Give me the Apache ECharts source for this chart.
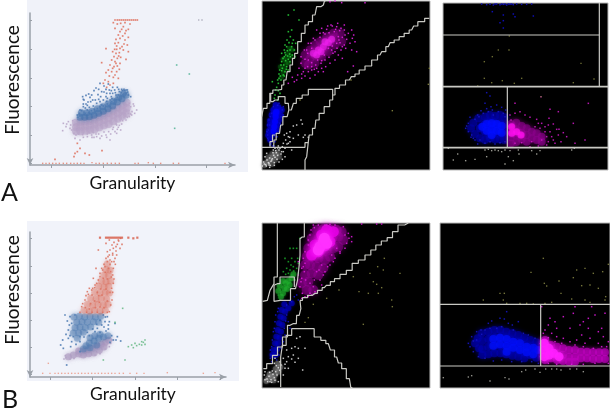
<!DOCTYPE html>
<html><head><meta charset="utf-8">
<script src="https://cdn.jsdelivr.net/npm/echarts@6/dist/echarts.min.js"></script>
<style>html,body{margin:0;padding:0;background:#fff}#c{width:610px;height:408px}</style></head>
<body><div id="c"></div>
<script>
const alLavCore=[228,368,228,382,228,394,242,366,242,380,242,394,256,364,256,378,256,392,270,362,270,376,270,390,284,358,284,372,284,388,298,352,298,366,298,382,312,346,312,360,312,376,326,340,326,354,326,372,340,332,340,346,340,364,354,324,354,340,354,356,368,316,368,332,368,348,380,308,380,324,380,340];
const alLav=[190,370,198,380,205,365,212,375,215,390,222,400,228,405,236,402,248,404,262,402,275,405,290,410,305,408,320,412,332,402,345,395,355,382,365,372,378,360,388,350,396,335,392,320,402,318,385,340,375,348,268,398,280,398,296,402,312,396,326,395,338,388,350,375,360,360,372,352,210,385,188,392,200,372,218,362,225,415,240,420,300,415,330,420,350,400,362,390,282,412,270,392,395,345,410,330,352,388,318,405,250,412,262,410,276,412,288,402,340,382,348,372,358,376,368,362,382,352,392,342,404,340,400,312,388,310];
const alBlueCore=[240,352,254,352,268,350,282,346,296,340,310,334,324,326,338,318,352,306,366,296,378,286,244,338,260,338,276,334,292,326,308,320,324,312,340,304,356,292,370,280];
const alBlue=[232,345,238,340,245,332,250,320,252,300,258,312,262,330,268,322,272,305,275,285,280,318,285,335,290,310,296,298,300,320,305,275,310,300,315,325,318,290,322,312,325,252,330,300,334,290,338,280,342,300,348,285,352,292,358,275,360,288,365,268,368,285,374,272,378,280,383,276,246,345,256,340,266,338,274,332,283,328,292,326,302,326,310,318,320,304,326,318,335,305,345,298,355,285,240,348,250,312,262,316,296,268,312,258,338,262,352,262,385,285,392,290,300,250,282,272,258,286,240,330,272,340,344,270,330,280,290,332,305,315,322,295,342,310,368,272,278,300,248,290,234,352,256,324,264,306,270,292,286,300,294,284,302,290,312,276,320,280,328,270,336,296,346,278,356,268,364,278,372,268,382,270,250,298,266,282,288,264,300,305,318,268,334,272,348,300,378,270];
const alRed=[345,60,352,60,358,60,364,60,370,60,376,60,382,60,388,60,394,60,400,60,406,60,412,60,340,68,352,72,362,70,375,68,390,72,345,85,370,80,385,88,360,95,375,100,348,118,360,115,375,120,385,112,355,128,345,130,372,132,382,135,350,148,360,145,338,155,348,160,358,158,370,150,318,146,385,155,342,170,352,175,362,172,335,180,345,185,378,178,330,195,342,200,352,198,360,190,305,188,325,210,335,215,350,215,318,218,328,228,340,232,315,240,325,245,355,235,340,250,330,255,310,250,320,262,232,430,240,445,222,470,255,460,268,465,232,455,225,460,306,452,165,478,365,88,355,105,368,108,378,92,350,138,366,140,344,148,356,168,348,190,338,205,345,225,358,208];
const alRedBase=[128,490,138,490,148,490,158,490,168,490,178,490,190,490,200,490,212,490,222,490,232,490,242,490,252,490,276,488,288,490,298,490,310,490,322,490,334,490,346,490,358,490,405,490,415,490,445,488,460,490,482,490,520,490,536,490,675,490];
const alGreen=[524,385,530,195,568,222];
const alGray=[596,60,606,60];
const amGreenCore=[88,205,92,190,96,175,100,160,104,145,84,218,80,232,108,170,112,150,76,200,84,178,100,190];
const amGreen=[100,45,117,30,132,60,100,95,110,90,106,110,115,120,96,120,90,135,102,128,122,130,88,150,80,160,92,165,118,150,112,165,105,185,80,185,95,200,74,210,100,210,90,215,72,235,78,240,70,250,52,245,65,262,60,285,70,290,75,280,68,300,110,140,84,175,120,170,95,140,105,150,97,152,88,170,106,170,78,195,92,182,100,178,72,222,85,225,80,212,62,270,70,272,58,295,86,195,98,168,90,158,112,130,104,162,76,228,82,205,94,208,68,240,88,228];
const amMagMass=[150,190,165,175,180,165,195,150,210,140,225,125,240,112,255,100,165,150,180,135,195,125,215,110,235,100,150,165,160,195,180,190,200,170,220,155,240,135,260,125];
const amMagCore=[175,160,190,150,205,140,220,128,185,165,210,125,198,155,230,118];
const amMag=[268,90,280,100,292,115,300,125,285,130,268,135,258,150,250,165,240,180,225,190,212,200,200,205,185,205,170,210,160,215,150,228,140,235,125,240,118,245,100,250,290,150,305,155,262,175,295,198,278,215,248,70,232,78,215,88,195,100,175,115,160,130,148,150,138,170,138,190,268,75,290,90,296,105,252,120,262,112,275,118,180,225,165,235,132,205,205,215,228,75,245,80,258,85,150,205,158,200,140,222,185,90,205,98,238,95,246,145,234,160,222,172,210,180,198,190,182,195,170,200,245,130,255,128,262,140,272,145,240,155,230,150,225,5,240,3,260,8,330,8,150,178,158,160,170,145,180,120,195,112,210,102,222,98,242,88,254,92,160,180,170,188,188,180,208,165,220,145,232,138,250,110,270,105,155,150,168,130,200,85,218,78,200,182,178,208,128,225,112,232,145,215,190,215];
const amBlueMass=[62,315,70,322,55,330,68,335,80,330,50,345,62,348,76,346,45,362,58,362,72,360,44,376,56,376,68,374,42,392,54,390,64,388,40,406,52,404,46,420];
const amBlueCore=[64,335,62,350,60,365,58,380,56,394,62,340];
const amBlue=[42,360,44,375,40,390,38,405,40,420,44,435,75,370,78,350,82,330,85,320,70,395,66,410,60,425,58,438,55,320,50,340,46,350,85,345,72,310,68,316,38,375,36,395,38,415,48,432,52,438];
const amWhiteMass=[30,490,38,486,46,480,54,472,62,464,68,456,40,472,28,496,50,492,60,480,52,462,72,470];
const amWhite=[78,462,85,455,90,445,75,445,70,438,85,430,92,420,100,410,88,405,105,395,115,378,125,375,130,405,145,412,160,412,150,405,138,360,142,372,95,400,105,425,60,445,55,450,35,460,82,478,90,470,110,450,42,495,20,490,100,430,115,415,22,498,30,470,44,502,58,496,72,486,80,455,68,444,82,440,96,432,104,412,26,486,32,494,36,480,40,488,44,474,48,484,52,476,56,466,60,472,64,458,68,466,72,450,34,498,42,490,50,480,58,488,66,478,28,492,46,496,54,458,62,452];
const amYellow=[523,205,520,253,412,332,288,240,135,300];
const arBlueTop=[680,12,695,14,705,13,715,15,725,12,735,14,745,13,755,15,765,13,775,14,785,12,800,13,815,13,830,12,712,35,745,45,775,42,835,48,745,62,735,68,745,84,780,50,720,12,740,12,750,12,760,12,770,12];
const arBlueMass=[648,385,655,368,660,402,670,355,675,385,675,415,690,350,690,372,690,395,690,420,705,345,705,368,705,392,705,415,720,348,720,372,720,395,720,418,735,345,735,370,735,392,735,418,748,352,748,375,748,398,748,420];
const arBlueCore=[682,380,695,372,695,392,710,370,710,388,710,405,725,372,725,392,740,378,740,398];
const arBlue=[632,385,640,370,645,352,650,405,660,420,672,350,685,340,700,335,715,345,730,335,745,340,690,310,705,288,695,278,675,420,690,430,705,425,720,432,735,428,750,425,640,395,648,412,660,358,725,315,708,320,752,330,750,350,635,378,668,345,678,332,695,326,712,330,740,322,655,415,668,432];
const arMagMass=[768,372,768,392,768,412,768,430,784,368,784,388,784,408,784,426,800,378,800,398,800,418,815,385,815,405,815,425,830,395,830,415,845,400,845,420,860,410,860,425];
const arMagCore=[770,380,770,400,785,395,798,405];
const arMag=[765,345,780,340,795,335,810,345,825,352,845,358,860,370,880,375,895,372,912,388,925,398,935,410,918,425,900,430,875,435,850,438,825,440,780,310,858,290,885,328,910,335,1000,310,955,370,960,430,990,420,870,395,855,385,840,380,890,410,860,420,780,430,800,428,910,405,882,355,768,360,830,425,875,410,885,395,895,420,905,388,880,425,870,380,850,370];
const arWhite=[580,445,690,450,700,448,710,452,720,450,730,452,740,455,750,450,765,452,790,450,830,452,855,452,950,450,958,445,608,462,792,462,760,470,695,470,595,480,632,482,660,478,775,482,750,492,845,462];
const arYellow=[763,108,730,150,762,150,712,170,688,185,978,190,688,235,742,242,778,250,800,235,1017,237,955,248,710,248,668,258,858,290];
const blRedMass=[252,316,268,318,284,316,300,318,316,316,262,298,278,300,294,298,310,300,324,298,272,280,288,282,304,280,320,282,284,262,300,264,316,262,328,264,296,244,312,246,326,244,304,228,318,230,332,228,312,210,326,212,318,194,330,196,322,176];
const blRed=[240,322,245,305,255,285,265,268,275,255,285,240,295,225,300,205,305,190,312,178,322,170,330,178,340,190,338,210,340,235,338,262,336,285,332,300,328,320,318,160,328,150,338,150,345,160,322,140,330,135,340,130,348,138,352,118,342,112,356,108,336,120,348,125,330,165,355,105,362,100,295,135,288,190,280,220,268,250,258,272,248,296,262,260,342,222,346,178,335,250,315,185,308,195,300,215,290,235,278,250,326,190,332,200,335,170,318,115,328,105,366,118,360,130,338,145,350,150,342,170,324,155,256,308,272,296,286,308,298,292,312,308,276,270,292,262,306,270,318,252,330,262,284,248,310,220,322,222,334,216,316,202,302,252,296,272,260,322,276,322,292,322,308,322,322,322,268,312,284,288,300,306,322,288];
const blRedTop=[300,98,318,98,324,98,330,98,336,98,342,98,348,98,354,98,360,98,366,98,385,98,400,100,412,98];
const blRedBase=[128,505,145,475,150,505,165,505,175,505,185,505,195,505,205,505,215,505,225,505,235,505,245,505,255,505,265,505,275,505,285,505,295,505,305,505,315,505,325,505,335,505,345,505,358,505,370,505,390,505,410,505,432,505,502,503,610,505,645,503];
const blBlueMass=[222,336,238,334,254,336,270,334,286,336,302,334,230,352,246,350,262,352,280,350,296,352,225,368,240,366,256,368,272,366,220,384,236,384,250,382,232,400,268,414,282,408,296,400,310,396,324,392,258,422,250,432,270,398,284,392,300,388,290,420,270,428];
const blBlue=[195,330,210,335,215,355,205,375,198,388,188,405,205,400,182,420,215,410,228,418,190,430,240,440,310,330,322,335,328,350,325,372,335,392,345,355,340,405,330,412,362,408,225,330,305,360,315,350,292,370,300,382,200,480,285,380,268,392,240,410,212,425,325,360,318,378,348,405,352,395,208,360,202,348,220,395,210,392,316,336,300,346,312,366,278,372,290,358,262,382,252,396,240,395];
const blLavMass=[205,455,220,450,236,446,250,438,264,434,278,430,292,424,304,418,316,412,326,406,250,450,266,446,282,444,298,436,312,426,236,438];
const blLav=[192,462,198,458,212,458,228,452,240,455,255,452,270,452,285,450,300,446,315,432,328,425,332,415,335,405,245,435,196,452,210,462,222,460];
const blGreen=[385,425,395,420,400,428,405,415,410,422,418,418,425,410,430,412,435,405,425,420,435,418,375,465,310,465,345,352,368,310];
const bmMagMass=[160,200,150,180,170,175,190,180,150,150,165,150,185,155,205,160,155,125,170,125,190,130,210,135,225,125,160,100,175,95,195,105,215,108,235,100,250,95,170,70,190,70,210,75,230,70,250,65,265,75,185,45,205,42,225,45,245,45,260,50,140,205,155,225,175,225];
const bmMagCore=[180,110,195,90,205,75,220,62,235,50,190,110,210,92,225,80,180,90,200,60,215,45,170,120];
const bmMagBright=[195,95,205,82,190,105,215,85,208,70];
const bmMag=[175,30,190,30,215,30,240,30,265,35,280,55,290,80,270,100,255,115,240,130,225,150,210,170,195,195,175,215,165,235,150,245,140,250,135,215,140,190,140,160,145,130,150,110,160,90,165,60,150,145,200,150,185,170,230,120,245,100,270,60,290,65,210,30,225,28,320,27,365,27,380,27,180,230,200,210,130,180,130,140,148,170,152,195,165,205,178,195,192,165,205,180,218,155,235,140,255,110,275,85,282,70,168,45,178,38,160,75,145,155,138,200,142,235,160,245,170,240];
const bmGreenCore=[92,205,88,220,84,235,78,245,100,198,104,210,96,222,110,190,70,228,74,212,84,198,115,178];
const bmGreen=[105,100,115,100,125,100,135,70,90,130,100,140,110,130,120,140,130,145,95,160,105,165,85,170,125,160,130,175,100,175,115,155,75,225,70,240,75,255,110,180,120,195,108,150,128,130,116,168,92,178];
const bmBlueMass=[88,268,80,285,90,290,76,305,86,310,72,325,82,330,68,345,78,350,64,365,74,368,60,385,70,385,56,405,66,402,52,420,62,420,100,280,110,265];
const bmBlue=[70,280,95,270,110,260,118,245,125,240,130,255,95,300,100,320,105,340,90,360,85,380,78,400,72,420,65,435,50,440,48,420,50,395,55,350,60,320,62,300,88,340,92,318,68,290,58,340,52,375,46,405,46,430];
const bmWhiteMass=[40,490,50,486,60,480,70,470,76,456,68,446,56,496,44,478,62,462,34,498];
const bmWhite=[85,480,90,460,95,440,100,425,110,400,120,395,125,370,135,365,130,400,150,400,115,420,130,430,100,460,143,465,60,430,58,445,30,470,85,430,95,405,45,500,70,500,110,432,120,442,90,448,28,480,75,440,36,492,42,484,48,494,54,478,58,488,62,470,66,480,70,458,74,466,78,450,38,500,44,472,52,468,64,452,30,494,60,496,50,502];
const bmYellow=[388,130,368,155,385,165,295,185,345,175,435,175,355,200,365,208,380,218,312,230,340,235,370,235,410,255,412,275,325,328,252,225,215,250,175,268,160,308,150,322];
const brBlueMass=[660,385,668,370,672,400,680,355,682,378,682,402,682,420,700,350,700,372,700,395,700,418,718,345,718,368,718,392,718,415,736,345,736,368,736,392,736,415,754,350,754,372,754,395,754,418,772,355,772,378,772,400,772,422,790,360,790,382,790,404,790,425,808,368,808,390,808,412,808,430,826,375,826,398,826,420,844,382,844,405,844,428];
const brBlueCore=[715,372,715,392,735,368,735,388,755,372,755,392,755,410,775,380,775,398,795,385,795,405,815,395,815,412,835,398,835,418,850,405];
const brBlue=[640,385,650,365,655,410,665,350,670,425,690,345,705,340,710,318,725,340,740,335,755,290,760,325,775,345,790,320,805,355,820,360,840,370,690,430,715,438,740,435,770,440,800,440,830,440,850,445,665,375,645,395,735,310,680,358,748,312,772,330,700,325,655,378,678,345];
const brMagMass=[870,375,870,395,870,415,870,435,888,390,888,410,888,430,906,395,906,415,906,435,924,400,924,420,924,438,942,405,942,425,942,440,960,405,960,425,960,440,978,410,978,430,996,410,996,430,1014,412,1014,432,1032,412,1032,432,1050,412,1050,432];
const brMagCore=[868,385,868,405,868,425,882,400,882,420,896,415,912,425];
const brMag=[865,355,885,310,890,355,900,320,925,305,925,370,945,340,955,295,965,375,975,330,985,395,1000,310,1005,370,1020,300,1030,350,1040,395,1060,380,1050,295,1010,275,960,275,1060,445,1020,445,985,448,950,448,905,448,880,445,1040,340,980,360,900,380,1015,400,860,275,1000,340,870,345,880,368,905,365,920,385,945,380,960,390,990,385,1030,385,1055,395,880,330,905,340,985,320,1045,365];
const brYellow=[865,130,828,172,868,205,875,213,912,198,955,188,965,165,990,160,1015,175,1043,170,1060,148,980,212,1005,210,1030,220,1052,245,1050,255,1005,262,950,252,990,255,918,235,890,262,870,265,835,267,815,265,795,265,755,265,745,255,748,235,735,235,685,255];
const brWhite=[565,488,650,482,705,498,750,488,762,492,800,470,812,465,840,462,855,472,872,462,890,462,905,462,918,465,945,462,965,462,985,470,640,486];

// gate outlines, read in the same units
const amGateTop=[[20,350],[30,325],[42,310],[47,280],[60,270],[80,268],[80,255],[93,240],[100,215],[110,195],[115,175],[123,160],[133,125],[145,100],[155,75],[165,65],[180,45],[190,20],[205,15],[212,3]];
const amGateBlue=[[47,305],[60,300],[80,290],[100,310],[103,330],[90,350],[77,375],[70,400],[57,420],[55,440]];
const amGateGreen=[[47,280],[47,305]];
const amGateLeft=[[45,440],[45,425],[60,405]];
const amGateOuter=[[233,285],[247,265],[260,255],[283,240],[295,230],[305,222],[320,210],[340,198],[360,180],[375,165],[385,155],[400,140],[410,128],[425,120],[440,110],[455,100],[470,90],[482,78],[495,65],[523,55]];
const amGateGray=[[150,510],[150,480],[160,470],[160,425],[165,405],[180,385],[185,360],[200,340],[215,320],[233,300],[233,268],[170,268],[150,285],[133,295],[115,310],[103,330]];
const amLine=[[21,442],[140,442],[160,428]];
const arLine1=[[564,105],[1033,105]];
const arLine2=[[1033,9],[1033,260]];
const arLine3=[[564,260],[1059,260]];
const arLine4=[[757,260],[757,443]];
const arLine5=[[564,443],[1059,443]];
const bmGateA=[[67,24],[67,186],[57,186],[57,206],[45,226],[37,256],[23,259]];
const bmGateB=[[148,24],[148,66],[135,71],[135,121],[130,151],[125,196],[118,221],[95,256],[57,259],[57,211],[67,206],[83,186],[118,186],[118,216]];
const bmGateC=[[135,256],[150,248],[165,241],[180,235],[195,226],[208,218],[220,211],[232,200],[245,191],[265,178],[283,166],[300,145],[320,135],[340,120],[355,105],[370,90],[388,78],[405,68],[420,50],[438,30],[460,24]];
const bmGateD=[[135,256],[140,281],[125,301],[123,326],[105,331],[90,366],[75,396],[60,421],[45,446],[25,461]];
const bmGateE=[[77,516],[77,426],[87,391],[100,361],[120,341],[165,341],[190,366],[205,376],[220,386],[232,405],[245,426],[255,444],[265,461],[283,491],[292,518]];
const brLine1=[[555,268],[1065,268]];
const brLine2=[[555,453],[1065,453]];
const brLine3=[[857,268],[857,453]];

// Per-panel units are a plain reading scale
const granularityTicks=[155,310,465,618];
const fluorTicksA=[60,148,235,320,405,490];
const granularityTicksB=[150,278,405,532,660];
const fluorTicksB=[100,183,265,347,428,508];

const pairs=a=>{const r=[];for(let i=0;i<a.length;i+=2)r.push([a[i],a[i+1]]);return r;};
const chart=echarts.init(document.getElementById('c'),null,{renderer:'canvas'});
const panels=[
 {l:30,t:13,w:205,h:152,x:[90,705],y:[39,495],axes:1,tx:granularityTicks,ty:fluorTicksA,np:[0,0,0,18],xg:9},
 {l:262,t:1,w:168,h:169,x:[21,525],y:[3,510]},
 {l:443,t:3,w:165,h:167,x:[564,1059],y:[9,510]},
 {l:30,t:232,w:196,h:145,x:[90,678],y:[81,516],axes:1,tx:granularityTicksB,ty:fluorTicksB,np:[0,0,0,29],xg:8,xp:[0,0,0,10]},
 {l:262,t:223,w:168,h:165,x:[21,525],y:[24,519]},
 {l:440,t:223,w:170,h:165,x:[555,1065],y:[24,519]}
];
const grid=[],xAxis=[],yAxis=[];
panels.forEach(p=>{
 grid.push({left:p.l,top:p.t,width:p.w,height:p.h,show:!p.axes,backgroundColor:'#000',borderColor:'#b9b9b9',borderWidth:1});
 const lineS={show:!!p.axes,lineStyle:{color:'#9aa0a8',width:1.5}};
 xAxis.push({type:'value',gridIndex:grid.length-1,min:p.x[0],max:p.x[1],splitLine:{show:false},axisLabel:{show:false},
  axisLine:{...lineS,symbol:['none','arrow'],symbolSize:[5,7]},
  axisTick:{show:!!p.axes,length:3,lineStyle:{color:'#9aa0a8'},customValues:p.tx},
  name:p.axes?'Granularity':'',nameLocation:'middle',nameGap:p.xg||0,nameTextStyle:{fontFamily:'Lato',fontSize:17.5,color:'#111',verticalAlign:'top',padding:p.xp||0}});
 yAxis.push({type:'value',gridIndex:grid.length-1,min:p.y[0],max:p.y[1],inverse:true,splitLine:{show:false},axisLabel:{show:false},
  axisLine:{...lineS,symbol:['arrow','none'],symbolSize:[5,7]},
  axisTick:{show:!!p.axes,inside:true,length:2,lineStyle:{color:'#9aa0a8'},customValues:p.ty},
  name:p.axes?'Fluorescence':'',nameLocation:'middle',nameGap:p.axes?8:0,nameTextStyle:{fontFamily:'Lato',fontSize:19,color:'#111',padding:p.np||0}});
});
const pts=(g,d,color,size,opacity,blur)=>({type:'scatter',xAxisIndex:g,yAxisIndex:g,data:pairs(d),symbol:blur?'circle':'rect',symbolSize:size,silent:true,animation:false,
 itemStyle:{color,opacity:opacity==null?0.9:opacity,shadowBlur:blur||0,shadowColor:color}});
const gate=(g,d,step,w)=>({type:'line',xAxisIndex:g,yAxisIndex:g,data:d,step:step?'middle':false,showSymbol:false,silent:true,animation:false,z:5,
 lineStyle:{color:'#c9c9c4',width:w||1.2}});
const series=[
 pts(0,alLavCore,'#b6a3c6',8,.55,4),pts(0,alLav,'#b9a6c9',1.6),pts(0,alBlueCore,'#4472ac',7,.5,4),pts(0,alBlue,'#4f7bb2',1.7),pts(0,alRed,'#de7564',1.7),pts(0,alRedBase,'#e58a78',1.4),pts(0,alGreen,'#5ab79a',1.6),pts(0,alGray,'#a8a8b8',1.4),
 pts(1,amMagMass,'#8c008c',9,.45,6),pts(1,amMagCore,'#f020f0',7,.6,4),pts(1,amMag,'#e020e0',1.5),pts(1,amGreenCore,'#0c8c18',5,.3,3),pts(1,amGreen,'#28cc38',1.6),pts(1,amBlueMass,'#0000c8',6,.7,3),pts(1,amBlueCore,'#0000ff',6,.8,3),pts(1,amBlue,'#1010d0',1.5),pts(1,amWhiteMass,'#808080',6,.35,3),pts(1,amWhite,'#dedede',1.5),pts(1,amYellow,'#888840',1.4),
 gate(1,amGateTop,1),gate(1,amGateBlue,1),gate(1,amGateGreen),gate(1,amGateLeft,1),gate(1,amGateOuter,1),gate(1,amGateGray,1),gate(1,amLine,1),
 pts(2,arBlueTop,'#1010c8',1.5),pts(2,arBlueMass,'#0000a8',8,.6,5),pts(2,arBlueCore,'#0010ff',8,.7,4),pts(2,arBlue,'#1515c0',1.5),pts(2,arMagMass,'#900090',8,.6,5),pts(2,arMagCore,'#ff10f0',7,.7,3),pts(2,arMag,'#c818c0',1.5),pts(2,arWhite,'#a8a8a0',1.4),pts(2,arYellow,'#777738',1.4),
 gate(2,arLine1),gate(2,arLine2),gate(2,arLine3,0,1.6),gate(2,arLine4),gate(2,arLine5,0,1.6),
 pts(3,blLavMass,'#ab9ac0',7,.6,4),pts(3,blLav,'#b4a4c6',1.6),pts(3,blBlueMass,'#4b78ad',7,.42,4),pts(3,blBlue,'#4f7cb2',1.7),pts(3,blRedMass,'#d96a58',7,.32,4),pts(3,blRed,'#dc7362',1.6),pts(3,blRedTop,'#d96a58',2.2),pts(3,blRedBase,'#eda08e',1.4),pts(3,blGreen,'#6dbb8a',1.6),
 pts(4,bmMagMass,'#980098',10,.5,6),pts(4,bmMagCore,'#e800e8',11,.8,6),pts(4,bmMagBright,'#ff30ff',11,.95,5),pts(4,bmMag,'#d818d8',1.5),pts(4,bmGreenCore,'#20b030',6,.55,3),pts(4,bmGreen,'#18a028',1.6),pts(4,bmBlueMass,'#0000c0',6,.6,3),pts(4,bmBlue,'#1010d0',1.5),pts(4,bmWhiteMass,'#909090',6,.4,3),pts(4,bmWhite,'#dcdcdc',1.5),pts(4,bmYellow,'#808040',1.4),
 gate(4,bmGateA),gate(4,bmGateB,1),gate(4,bmGateC,1),gate(4,bmGateD,1),gate(4,bmGateE,1),
 pts(5,brBlueMass,'#0000b0',8,.6,5),pts(5,brBlueCore,'#0010f8',8,.7,4),pts(5,brBlue,'#1515c0',1.5),pts(5,brMagMass,'#c000c0',8,.65,4),pts(5,brMagCore,'#ff20ff',9,.85,4),pts(5,brMag,'#d818d8',1.5),pts(5,brYellow,'#808040',1.4),pts(5,brWhite,'#a0a098',1.4),
 gate(5,brLine1),gate(5,brLine2),gate(5,brLine3)
];
chart.setOption({animation:false,backgroundColor:'#fff',grid,xAxis,yAxis,series,
 graphic:[
  {type:'rect',silent:true,z:-1,shape:{x:27,y:0,width:221,height:172},style:{fill:'#f0f2f9'}},
  {type:'rect',silent:true,z:-1,shape:{x:27,y:221,width:212,height:160},style:{fill:'#f1f3fa'}},
  {type:'text',left:1,top:180,style:{text:'A',font:'25px Lato',fill:'#111'}},
  {type:'text',left:2,top:387,style:{text:'B',font:'25px Lato',fill:'#111'}}
 ]});
</script></body></html>
